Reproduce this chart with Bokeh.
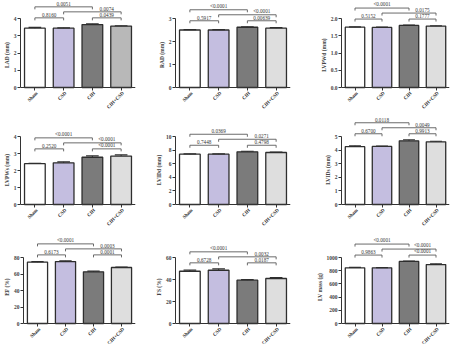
import math
from bokeh.plotting import figure
from bokeh.layouts import row, column
from bokeh.models import Range1d, FixedTicker
from bokeh.core.properties import value
from bokeh.embed import file_html
from bokeh.resources import INLINE

groups = ["Sham", "CSD", "CIH", "CIH+CSD"]

# values (mean) and error (SEM) per panel
lad = [3.44, 3.44, 3.65, 3.56]
lad_err = [0.05, 0.02, 0.04, 0.02]
lad_p = ["0.8160", "0.0051", "0.0074", "0.0439"]

rad = [2.50, 2.50, 2.62, 2.58]
rad_err = [0.02, 0.02, 0.02, 0.02]
rad_p = ["0.5917", "<0.0001", "<0.0001", "0.00639"]

lvpwd = [1.75, 1.74, 1.80, 1.78]
lvpwd_err = [0.01, 0.01, 0.01, 0.01]
lvpwd_p = ["0.5152", "<0.0001", "0.0175", "0.1777"]

lvpws = [2.40, 2.45, 2.78, 2.85]
lvpws_err = [0.02, 0.06, 0.08, 0.07]
lvpws_p = ["0.2520", "<0.0001", "<0.0001", "<0.0001"]

lvidd = [7.40, 7.40, 7.75, 7.65]
lvidd_err = [0.05, 0.05, 0.08, 0.06]
lvidd_p = ["0.7448", "0.0369", "0.0271", "0.4798"]

lvids = [4.25, 4.27, 4.68, 4.61]
lvids_err = [0.07, 0.03, 0.08, 0.04]
lvids_p = ["0.6700", "0.0118", "0.0049", "0.9913"]

ef = [74.3, 75.1, 62.6, 67.9]
ef_err = [0.6, 0.8, 0.8, 0.4]
ef_p = ["0.6173", "<0.0001", "0.0003", "0.0001"]

fs = [47.5, 48.4, 39.4, 40.9]
fs_err = [1.0, 1.3, 0.4, 0.8]
fs_p = ["0.6728", "<0.0001", "0.0032", "0.0187"]

lvmass = [843, 843, 940, 893]
lvmass_err = [8, 5, 6, 12]
lvmass_p = ["0.9863", "<0.0001", "<0.0001", "<0.0001"]

y_labels = ["LAD (mm)", "RAD (mm)", "LVPWd (mm)",
            "LVPWs (mm)", "LVIDd (mm)", "LVIDs (mm)",
            "EF (%)", "FS (%)", "LV mass (g)"]
y_ticks = [[0, 1, 2, 3, 4], [0, 1, 2, 3], [0, 0.5, 1.0, 1.5, 2.0],
           [0, 1, 2, 3, 4], [0, 2, 4, 6, 8, 10], [0, 1, 2, 3, 4, 5],
           [0, 20, 40, 60, 80], [0, 20, 40, 60], [0, 200, 400, 600, 800, 1000]]
y_tick_labels = [["0", "1", "2", "3", "4"], ["0", "1", "2", "3"],
                 ["0.0", "0.5", "1.0", "1.5", "2.0"],
                 ["0", "1", "2", "3", "4"], ["0", "2", "4", "6", "8", "10"],
                 ["0", "1", "2", "3", "4", "5"],
                 ["0", "20", "40", "60", "80"], ["0", "20", "40", "60"],
                 ["0", "200", "400", "600", "800", "1000"]]

panels = [(lad, lad_err, lad_p), (rad, rad_err, rad_p), (lvpwd, lvpwd_err, lvpwd_p),
          (lvpws, lvpws_err, lvpws_p), (lvidd, lvidd_err, lvidd_p), (lvids, lvids_err, lvids_p),
          (ef, ef_err, ef_p), (fs, fs_err, fs_p), (lvmass, lvmass_err, lvmass_p)]

# layout (pixels)
col_w = [152, 153, 153]
col_left = [19, 23, 36]
col_frame = [116, 115, 108]
row_h = [113, 117, 117]
row_zero = [87, 91, 93]        # pixel row of y = 0 inside each figure
row_axis_len = [69, 68, 66]
BOTTOM = 4

fills = ["#ffffff", "#c4bee0", "#7b7b7b", "#dedede"]
FONT = value("Liberation Serif")

figs = []
for i, (vals, errs, pv) in enumerate(panels):
    r, c = divmod(i, 3)
    W, H = col_w[c], row_h[r]
    frame_h = H - BOTTOM
    ymax = y_ticks[i][-1]
    dpp = ymax / row_axis_len[r]          # data units per pixel
    y_end = row_zero[r] * dpp
    y_start = -(frame_h - row_zero[r]) * dpp
    p = figure(width=W, height=H, output_backend="svg", toolbar_location=None,
               x_range=Range1d(0.5, 4.5), y_range=Range1d(y_start, y_end),
               min_border_left=col_left[c], min_border_right=W - col_left[c] - col_frame[c],
               min_border_top=0, min_border_bottom=BOTTOM)
    p.outline_line_color = None
    p.xgrid.visible = False
    p.ygrid.visible = False
    p.background_fill_color = "white"
    p.border_fill_color = "white"

    xs = [1, 2, 3, 4]
    colors = list(fills)
    if i == 0:
        colors[3] = "#b8b8b8"
    p.vbar(x=xs, top=vals, width=0.72, bottom=0, fill_color=colors,
           line_color="#2e2e2e", line_width=1.3)
    # error bars (upper)
    tops = [v + e for v, e in zip(vals, errs)]
    p.segment(x0=xs, y0=vals, x1=xs, y1=tops, line_color="#2e2e2e", line_width=1)
    p.segment(x0=[x - 0.22 for x in xs], y0=tops, x1=[x + 0.22 for x in xs], y1=tops,
              line_color="#2e2e2e", line_width=1.2)

    # significance brackets
    base = max(tops)
    L1 = base + 6 * dpp
    L2 = L1 + 6 * dpp
    L3 = L2 + 5 * dpp
    tick = 2.5 * dpp
    pairs = [(1, 2, L1), (1, 3, L3), (2, 4, L2), (3, 4, L1)]
    bx, by = [], []
    for a, b, lvl in pairs:
        bx.append([a, a, b, b])
        by.append([lvl - tick, lvl, lvl, lvl - tick])
    p.multi_line(xs=bx, ys=by, line_color="#5a5a5a", line_width=0.9)
    lx = [1.5, 2.0, 3.5, 3.5]
    ly = [lvl + 0.8 * dpp for (_, _, lvl) in pairs]
    p.text(x=lx, y=ly, text=pv, text_font=FONT, text_font_size="5.2px",
           text_align="center", text_baseline="bottom", text_color="#333333")

    # x axis drawn at y = 0 inside the frame
    xa = p.xaxis[0]
    xa.fixed_location = 0
    xa.ticker = FixedTicker(ticks=xs)
    xa.major_label_overrides = {x: "" for x in xs}
    xa.major_label_text_font_size = "1px"
    xa.major_label_standoff = 0
    xa.major_tick_in = 0
    xa.major_tick_out = 3
    xa.minor_tick_line_color = None
    xa.axis_line_color = "#333333"
    xa.major_tick_line_color = "#333333"

    # rotated category labels (end of text at the tick)
    p.text(x=xs, y=[0] * 4, text=groups, angle=math.pi / 4,
           text_align="right", text_baseline="middle", x_offset=2, y_offset=5,
           text_font=FONT, text_font_style="bold", text_font_size="4.9px",
           text_color="#222222")

    ya = p.yaxis[0]
    ya.ticker = FixedTicker(ticks=y_ticks[i])
    ya.major_label_overrides = {t: s for t, s in zip(y_ticks[i], y_tick_labels[i])}
    ya.bounds = (0, ymax)
    ya.axis_label = y_labels[i]
    ya.axis_label_text_font = "Liberation Serif"
    ya.axis_label_text_font_style = "bold"
    ya.axis_label_text_font_size = "5.5px"
    ya.axis_label_standoff = 1
    ya.major_label_text_font = "Liberation Serif"
    ya.major_label_text_font_style = "bold"
    ya.major_label_text_font_size = "5.5px"
    ya.major_label_standoff = 1
    ya.major_tick_in = 0
    ya.major_tick_out = 3
    ya.minor_tick_line_color = None
    ya.axis_line_color = "#333333"
    ya.major_tick_line_color = "#333333"
    figs.append(p)

layout = column(row(*figs[0:3]), row(*figs[3:6]), row(*figs[6:9]))
open("out.html", "w").write(file_html(layout, INLINE))
